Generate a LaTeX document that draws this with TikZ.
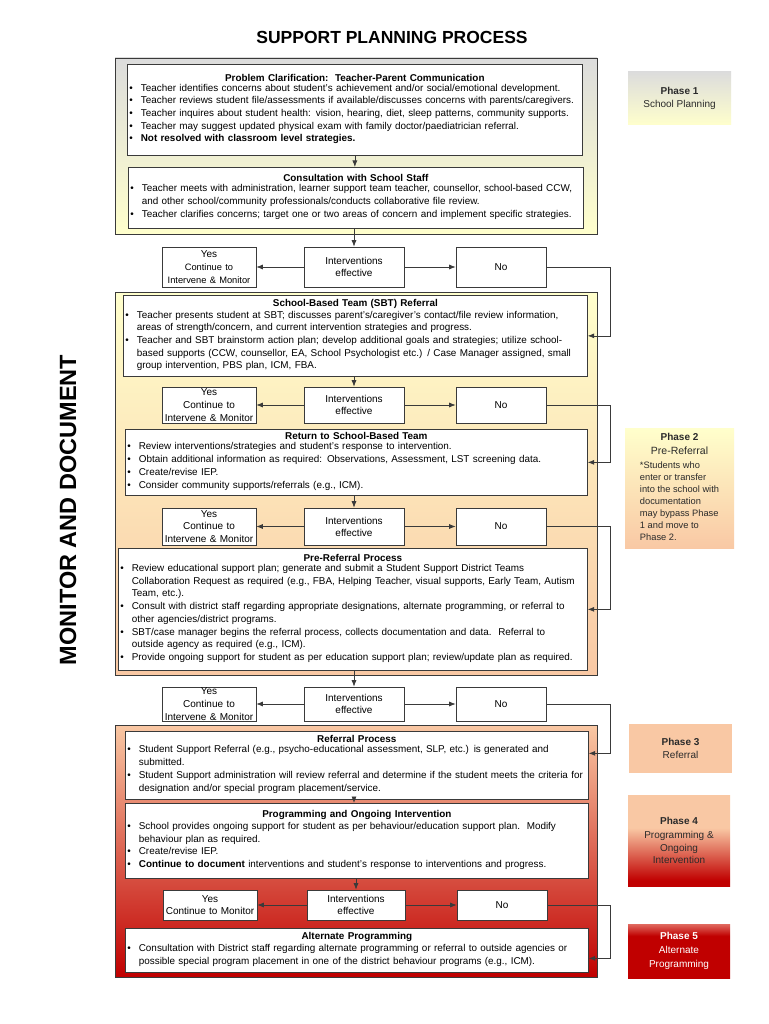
\documentclass[tikz,border=0pt]{standalone}
\usepackage{fontspec}
\setmainfont{Liberation Sans}
\usepackage{xcolor}
\usepackage{tikz}
\usetikzlibrary{calc}
\usetikzlibrary{positioning}
\usetikzlibrary{arrows.meta}

\definecolor{greytop}{HTML}{DCDCDC}
\definecolor{paleyellow}{HTML}{FFFFCC}
\definecolor{peach}{HTML}{F9C8A4}
\definecolor{deepred}{HTML}{C00000}
\definecolor{redtop}{HTML}{E06A60}
\definecolor{linegray}{HTML}{3A3A3A}
\definecolor{textgray}{HTML}{2A2A2A}

\pgfdeclareverticalshading{phasefour}{100bp}{color(0bp)=(deepred); color(28bp)=(deepred); color(57bp)=(peach); color(100bp)=(peach)}
\pgfdeclareverticalshading{phasefive}{100bp}{color(0bp)=(deepred); color(64bp)=(deepred); color(75bp)=(redtop); color(100bp)=(redtop)}

\newcommand{\boxtitle}[1]{{\centering\bfseries #1\par}}
\newenvironment{ptlist}{\noindent\begin{tabular}{@{}p{11.5pt}@{}l@{}}}{\end{tabular}\par}

\begin{document}
\begin{tikzpicture}[x=1pt,y=-1pt,
	stepbox/.style={draw=linegray,fill=white,line width=0.7pt,anchor=north west,inner xsep=2pt,inner ysep=1pt,font=\fontsize{9.9}{12.7}\selectfont},
	decbox/.style={draw=linegray,fill=white,line width=0.7pt,inner sep=0pt,align=center,minimum width=#1,text width=#1},
	phasebox/.style={inner sep=0pt,align=center,text=textgray,font=\fontsize{10}{12.5}\selectfont},
	flow/.style={-{Latex[length=6.5pt,width=5pt]},draw=linegray,line width=0.7pt}]
	\fill[white] (0,0) rectangle (768,1024);
	\useasboundingbox (0,0) rectangle (768,1024);

	% headings
	\node[font=\fontsize{17.5}{20}\selectfont\bfseries] (title) at (392,37) {SUPPORT PLANNING PROCESS};
	\node[rotate=90,font=\fontsize{23.5}{28}\selectfont\bfseries] (monitor) at (68,510) {MONITOR AND DOCUMENT};

	% phase backgrounds
	\shade[draw=linegray,line width=0.7pt,top color=greytop,bottom color=paleyellow] (115,58) rectangle (597,234);
	\shade[draw=linegray,line width=0.7pt,top color=paleyellow,bottom color=peach] (115,292) rectangle (597,675);
	\shade[draw=linegray,line width=0.7pt,top color=peach,bottom color=deepred] (115,725) rectangle (597,977);

	% phase 1
	\node[stepbox,minimum height=91,text width=451] (prob) at (127,64) {\boxtitle{Problem Clarification:\ \ Teacher-Parent Communication}
	\begin{ptlist}
	\textbullet & Teacher identifies concerns about student’s achievement and/or social/emotional development.\\
	\textbullet & Teacher reviews student file/assessments if available/discusses concerns with parents/caregivers.\\
	\textbullet & Teacher inquires about student health: vision, hearing, diet, sleep patterns, community supports.\\
	\textbullet & Teacher may suggest updated physical exam with family doctor/paediatrician referral.\\
	\textbullet & \textbf{Not resolved with classroom level strategies.}
	\end{ptlist}};
	\node[stepbox,minimum height=61,text width=451] (cons) at (128,167) {\boxtitle{Consultation with School Staff}
	\begin{ptlist}
	\textbullet & Teacher meets with administration, learner support team teacher, counsellor, school-based CCW,\\
	 & and other school/community professionals/conducts collaborative file review.\\
	\textbullet & Teacher clarifies concerns; target one or two areas of concern and implement specific strategies.
	\end{ptlist}};

	% phase 2
	\node[stepbox,minimum height=81,text width=460] (sbt) at (123,295) {\boxtitle{School-Based Team (SBT) Referral}
	\begin{ptlist}
	\textbullet & Teacher presents student at SBT; discusses parent’s/caregiver’s contact/file review information,\\
	 & areas of strength/concern, and current intervention strategies and progress.\\
	\textbullet & Teacher and SBT brainstorm action plan; develop additional goals and strategies; utilize school-\\
	 & based supports (CCW, counsellor, EA, School Psychologist etc.) / Case Manager assigned, small\\
	 & group intervention, PBS plan, ICM, FBA.
	\end{ptlist}};
	\node[stepbox,minimum height=66,text width=458] (ret) at (125,429) {\boxtitle{Return to School-Based Team}
	\begin{ptlist}
	\textbullet & Review interventions/strategies and student’s response to intervention.\\
	\textbullet & Obtain additional information as required: Observations, Assessment, LST screening data.\\
	\textbullet & Create/revise IEP.\\
	\textbullet & Consider community supports/referrals (e.g., ICM).
	\end{ptlist}};
	\node[stepbox,minimum height=122,text width=465] (pre) at (118,548) {\boxtitle{Pre-Referral Process}
	\begin{ptlist}
	\textbullet & Review educational support plan; generate and submit a Student Support District Teams\\
	 & Collaboration Request as required (e.g., FBA, Helping Teacher, visual supports, Early Team, Autism\\
	 & Team, etc.).\\
	\textbullet & Consult with district staff regarding appropriate designations, alternate programming, or referral to\\
	 & other agencies/district programs.\\
	\textbullet & SBT/case manager begins the referral process, collects documentation and data.\ \ Referral to\\
	 & outside agency as required (e.g., ICM).\\
	\textbullet & Provide ongoing support for student as per education support plan; review/update plan as required.
	\end{ptlist}};

	% phases 3 to 5
	\node[stepbox,minimum height=68,text width=459] (ref) at (125,731) {\boxtitle{Referral Process}
	\begin{ptlist}
	\textbullet & Student Support Referral (e.g., psycho-educational assessment, SLP, etc.) is generated and\\
	 & submitted.\\
	\textbullet & Student Support administration will review referral and determine if the student meets the criteria for\\
	 & designation and/or special program placement/service.
	\end{ptlist}};
	\node[stepbox,minimum height=75,text width=459] (prog) at (125,803) {\boxtitle{Programming and Ongoing Intervention}
	\begin{ptlist}
	\textbullet & School provides ongoing support for student as per behaviour/education support plan.\ \ Modify\\
	 & behaviour plan as required.\\
	\textbullet & Create/revise IEP.\\
	\textbullet & \textbf{Continue to document} interventions and student’s response to interventions and progress.
	\end{ptlist}};
	\node[stepbox,minimum height=44,text width=459] (alt) at (125,928) {\boxtitle{Alternate Programming}
	\begin{ptlist}
	\textbullet & Consultation with District staff regarding alternate programming or referral to outside agencies or\\
	 & possible special program placement in one of the district behaviour programs (e.g., ICM).
	\end{ptlist}};

	% decision rows
	\foreach \r/\y/\h/\s in {1/267/40/9.3,2/405/36/10,3/526.5/37/10,4/704/34/10}{
		\node[decbox=94,minimum height=\h] (yes\r) at (209,\y) {{\fontsize{10}{12.8}\selectfont Yes\par}{\fontsize{\s}{12.8}\selectfont Continue to\par Intervene \& Monitor\par}};
		\node[decbox=100,minimum height=\h,font=\fontsize{10}{12}\selectfont] (int\r) at (354,\y) {Interventions\par effective\par};
		\node[decbox=90,minimum height=\h,font=\fontsize{10}{12}\selectfont] (no\r) at (501,\y) {No};
		\draw[flow] (int\r.west) -- (yes\r.east);
		\draw[flow] (int\r.east) -- (no\r.west);
	}
	\node[decbox=94,minimum height=30,font=\fontsize{10}{12}\selectfont] (yes5) at (210,905) {Yes\par Continue to Monitor\par};
	\node[decbox=98,minimum height=30,font=\fontsize{10}{12}\selectfont] (int5) at (356,905) {Interventions\par effective\par};
	\node[decbox=90,minimum height=30,font=\fontsize{10}{12}\selectfont] (no5) at (502,905) {No};
	\draw[flow] (int5.west) -- (yes5.east);
	\draw[flow] (int5.east) -- (no5.west);

	% main flow
	\draw[flow] (prob.south) -- (prob.south |- cons.north);
	\draw[flow] (cons.south -| int1.north) -- (int1.north);
	\draw[flow] (sbt.south -| int2.north) -- (int2.north);
	\draw[flow] (ret.south -| int3.north) -- (int3.north);
	\draw[flow] (pre.south -| int4.north) -- (int4.north);
	\draw[flow] (ref.south -| int4.north) -- (prog.north -| int4.north);
	\draw[flow] (prog.south -| int5.north) -- (int5.north);

	% no loops
	\draw[flow] (no1.east) -- ++(64,0) |- (sbt.east);
	\draw[flow] (no2.east) -- ++(64,0) |- (ret.east);
	\draw[flow] (no3.east) -- ++(64,0) |- (pre.east);
	\draw[flow] (no4.east) -- ++(64,0) |- ([yshift=12pt]ref.east);
	\draw[flow] (no5.east) -- ++(63,0) |- ([yshift=-8pt]alt.east);

	% phase labels
	\node[phasebox,top color=greytop,bottom color=paleyellow,minimum width=103,minimum height=53] (ph1) at (679.5,98.5) {\textbf{Phase 1}\\School Planning};
	\node[phasebox,top color=paleyellow,bottom color=peach,minimum width=109,minimum height=120] (ph2) at (679.5,488.5) {\textbf{Phase 2}\\[2pt]{\fontsize{10.5}{12}\selectfont Pre-Referral}\\[4pt]
		{\fontsize{9.3}{12}\selectfont\begin{tabular}{@{}l@{}}*Students who\\enter or transfer\\into the school with\\documentation\\may bypass Phase\\1 and move to\\Phase 2.\end{tabular}}};
	\node[phasebox,fill=peach,minimum width=103,minimum height=49] (ph3) at (680.5,748.5) {\textbf{Phase 3}\\Referral};
	\node[phasebox,shading=phasefour,minimum width=102,minimum height=91] (ph4) at (679,840.5) {\textbf{Phase 4}\\[2pt]Programming \&\\Ongoing\\Intervention};
	\node[phasebox,shading=phasefive,text=white,minimum width=102,minimum height=54] (ph5) at (679,951) {\textbf{Phase 5}\\[1.5pt]Alternate\\[1.5pt]Programming};
\end{tikzpicture}
\end{document}
